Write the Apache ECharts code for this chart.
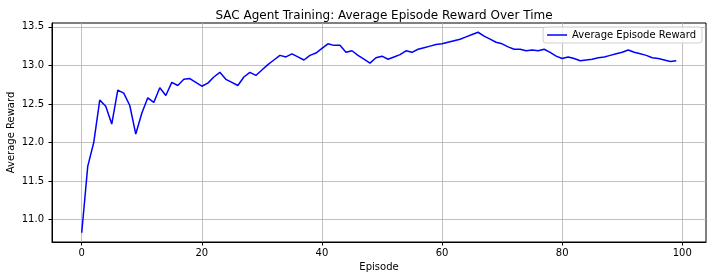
<!DOCTYPE html>
<html>
<head>
<meta charset="utf-8">
<script src="https://cdn.jsdelivr.net/npm/echarts@6/dist/echarts.min.js"></script>
<style>html,body{margin:0;padding:0;background:#fff}#c{width:712px;height:280px}</style>
</head>
<body>
<div id="c"></div>
<script>
const episodes = Array.from({length: 100}, (_, i) => i);
const rewards = [
  10.83, 11.69, 12.00, 12.55, 12.47, 12.24, 12.68, 12.64, 12.48, 12.11,
  12.38, 12.58, 12.52, 12.71, 12.61, 12.78, 12.74, 12.82, 12.83, 12.78,
  12.73, 12.77, 12.85, 12.91, 12.82, 12.78, 12.74, 12.85, 12.91, 12.87,
  12.94, 13.01, 13.07, 13.13, 13.11, 13.15, 13.11, 13.07, 13.13, 13.16,
  13.22, 13.28, 13.26, 13.26, 13.17, 13.19, 13.13, 13.08, 13.03, 13.10,
  13.12, 13.08, 13.11, 13.14, 13.19, 13.17, 13.21, 13.23, 13.25, 13.27,
  13.28, 13.30, 13.32, 13.34, 13.37, 13.40, 13.43, 13.38, 13.34, 13.30,
  13.28, 13.24, 13.21, 13.21, 13.19, 13.20, 13.19, 13.21, 13.17, 13.12,
  13.09, 13.11, 13.09, 13.06, 13.07, 13.08, 13.10, 13.11, 13.13, 13.15,
  13.17, 13.20, 13.17, 13.15, 13.13, 13.10, 13.09, 13.07, 13.05, 13.06
];
const xTicks = [0, 20, 40, 60, 80, 100];
const yTicks = [11.0, 11.5, 12.0, 12.5, 13.0, 13.5];
const seriesName = 'Average Episode Reward';

const font = 'DejaVu Sans';
const chart = echarts.init(document.getElementById('c'), null, {renderer: 'canvas'});
chart.setOption({
  animation: false,
  backgroundColor: '#fff',
  title: {
    text: 'SAC Agent Training: Average Episode Reward Over Time',
    left: 379, top: 5, textAlign: 'center',
    textStyle: {fontFamily: font, fontSize: 12, fontWeight: 'normal', color: '#000'}
  },
  legend: {
    data: [seriesName],
    right: 10, top: 27,
    orient: 'horizontal',
    icon: 'rect', itemWidth: 20, itemHeight: 1.5, itemGap: 8,
    padding: [3, 6, 3, 4],
    borderColor: '#d0d0d0', borderWidth: 1, borderRadius: 3,
    backgroundColor: 'rgba(255,255,255,0.8)',
    textStyle: {fontFamily: font, fontSize: 10, color: '#000'}
  },
  grid: {left: 52, right: 6, top: 23, bottom: 38, containLabel: false, outerBoundsMode: 'none',
    show: true, borderColor: '#000', borderWidth: 1, backgroundColor: 'transparent'},
  xAxis: {
    type: 'value', min: -4.95, max: 103.95,
    name: 'Episode', nameLocation: 'middle', nameGap: 20, nameMoveOverlap: false,
    nameTextStyle: {fontFamily: font, fontSize: 10, color: '#000'},
    axisLine: {show: true, onZero: false, lineStyle: {color: '#000', width: 1}},
    axisTick: {show: true, length: 3.5, customValues: xTicks, lineStyle: {color: '#000'}},
    axisLabel: {customValues: xTicks, margin: 6, fontFamily: font, fontSize: 10, color: '#000'},
    splitLine: {show: true, lineStyle: {color: '#b0b0b0', width: 0.8}}
  },
  yAxis: {
    type: 'value', min: 10.71, max: 13.55,
    name: 'Average Reward', nameLocation: 'middle', nameGap: 36, nameRotate: 90, nameMoveOverlap: false,
    nameTextStyle: {fontFamily: font, fontSize: 10, color: '#000'},
    axisLine: {show: true, onZero: false, lineStyle: {color: '#000', width: 1}},
    axisTick: {show: true, length: 3.5, customValues: yTicks, lineStyle: {color: '#000'}},
    axisLabel: {customValues: yTicks, margin: 8, fontFamily: font, fontSize: 10, color: '#000',
      formatter: v => v.toFixed(1)},
    splitLine: {show: true, lineStyle: {color: '#b0b0b0', width: 0.8}}
  },
  series: [{
    name: seriesName,
    type: 'line',
    data: episodes.map((e, i) => [e, rewards[i]]),
    showSymbol: false,
    symbol: 'none',
    lineStyle: {color: '#0000ff', width: 1.5},
    itemStyle: {color: '#0000ff'}
  }]
});
</script>
</body>
</html>
